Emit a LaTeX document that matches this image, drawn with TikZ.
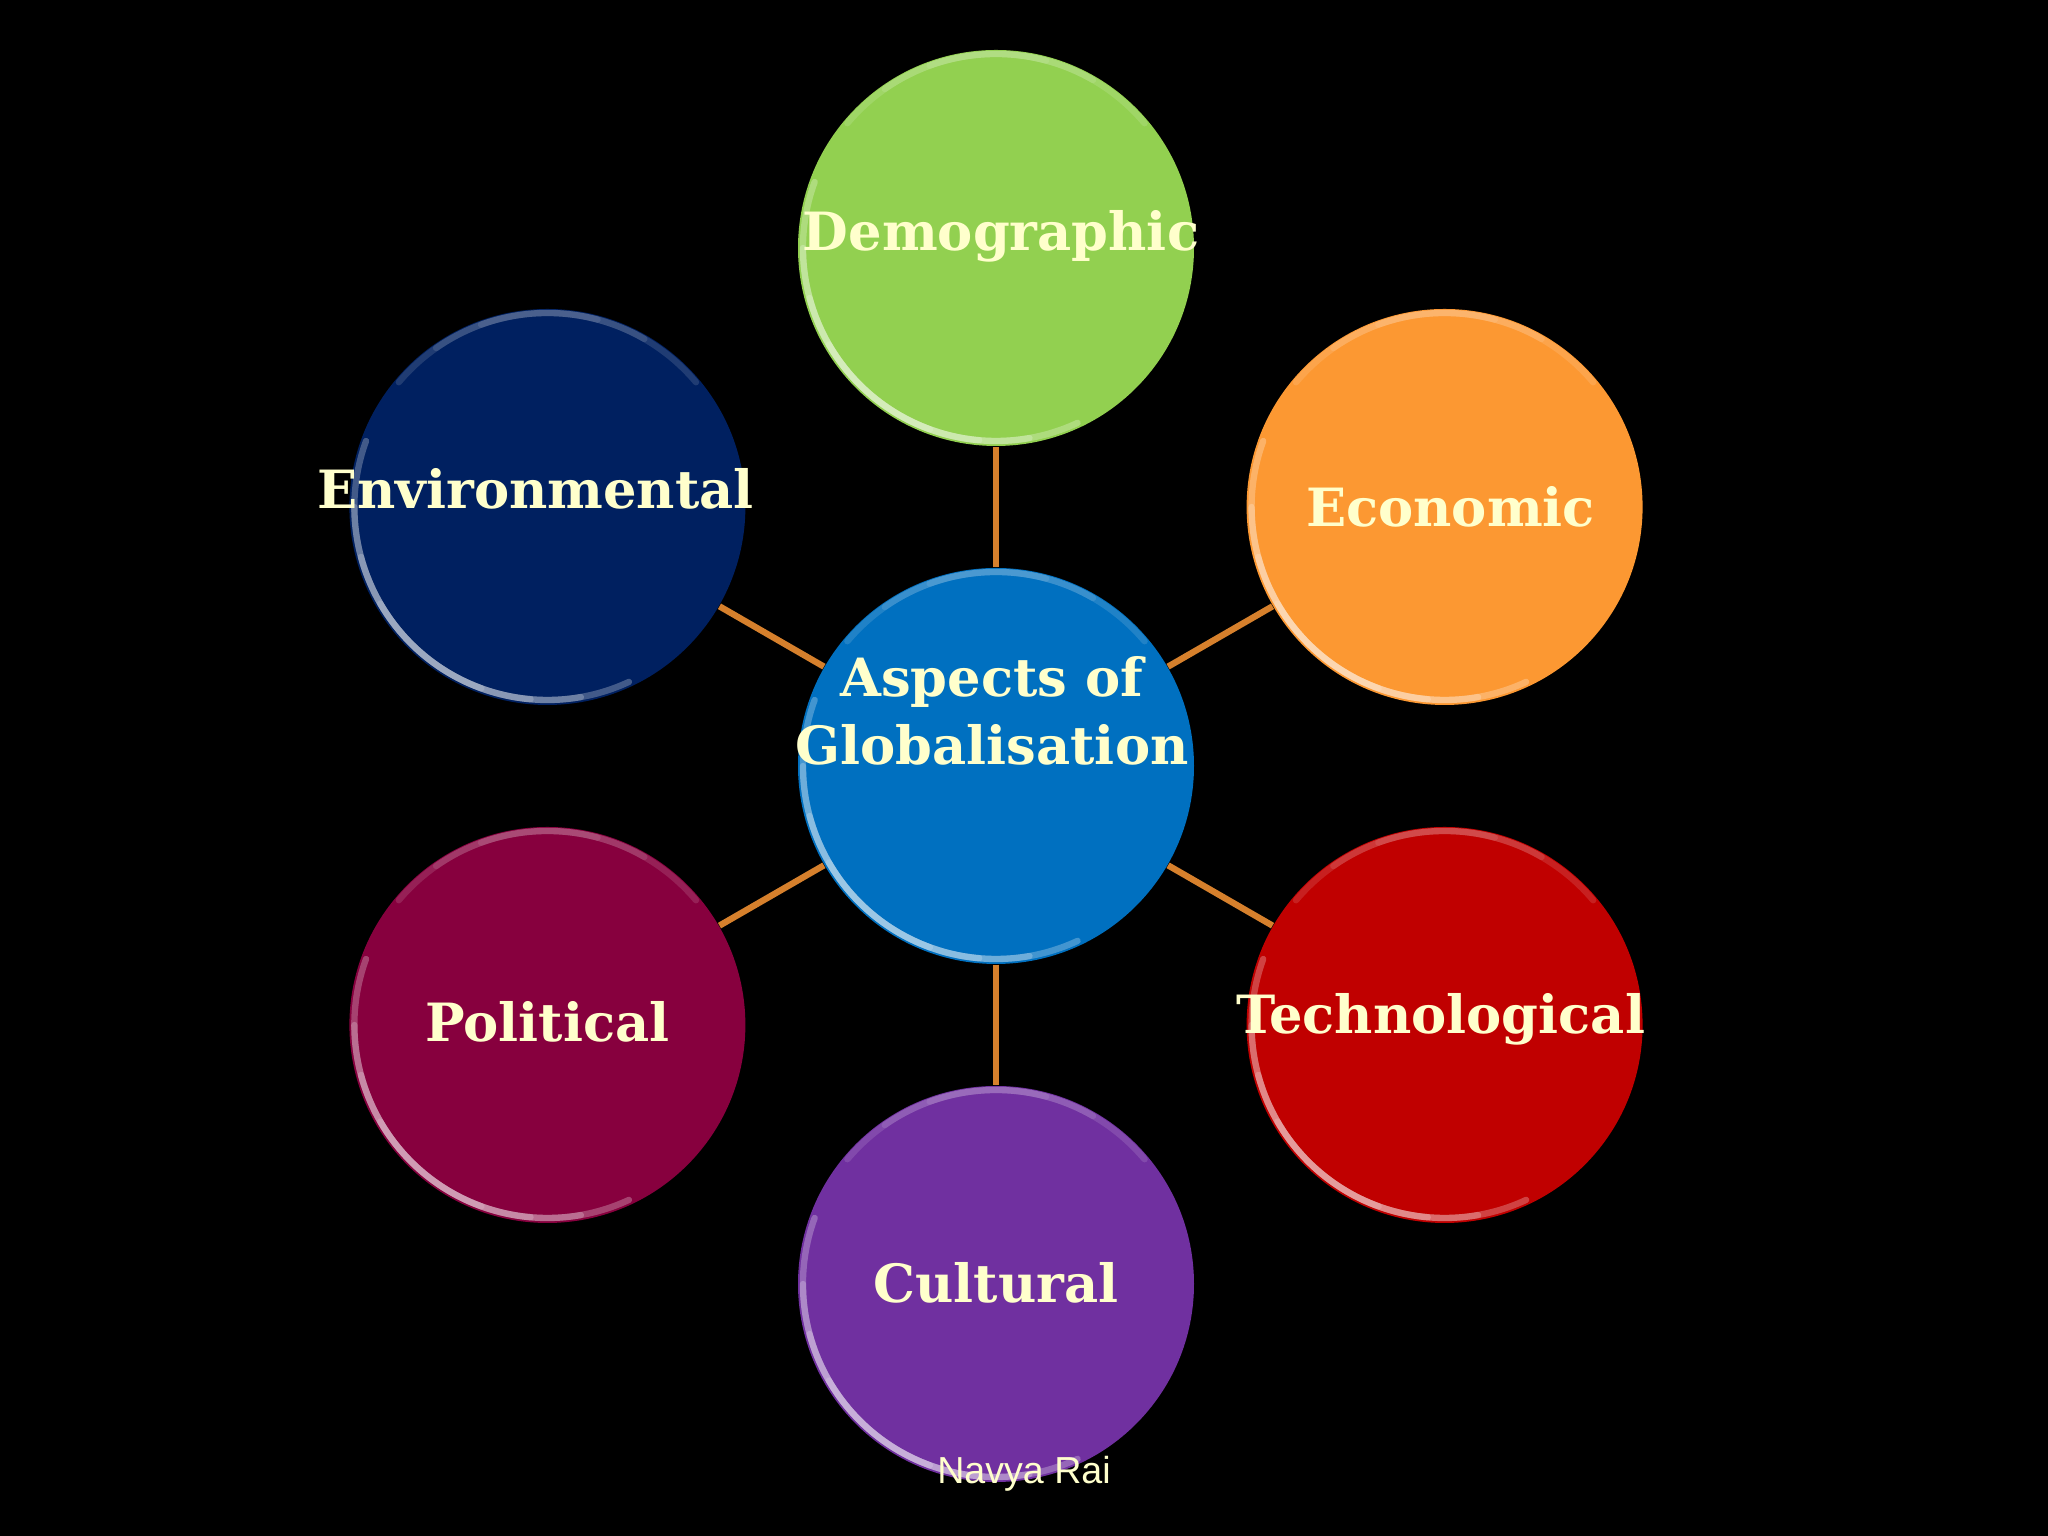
\documentclass[tikz,border=0pt]{standalone}
\usepackage{fontspec}
\setmainfont{DejaVu Serif}
\newfontfamily\namefont{Liberation Sans}

\definecolor{hubblue}{RGB}{0,112,192}
\definecolor{demogreen}{RGB}{146,208,80}
\definecolor{econorange}{RGB}{252,152,50}
\definecolor{techred}{RGB}{192,0,0}
\definecolor{cultpurple}{RGB}{112,48,160}
\definecolor{polmaroon}{RGB}{135,0,62}
\definecolor{envnavy}{RGB}{0,32,96}
\definecolor{linkorange}{RGB}{214,128,44}
\definecolor{capcream}{RGB}{255,255,204}

\tikzset{
  bubble/.style={circle, minimum size=3.96cm, inner sep=0pt},
  caption/.style={text=capcream, font=\bfseries\fontsize{15}{19.3}\selectfont, align=center},
  link/.style={linkorange, line width=1.8pt},
  rim/.style={line width=1.8pt, line cap=round, opacity=.35},
}

\begin{document}
\begin{tikzpicture}
    \fill[black] (0,0) rectangle (20.48,15.36);
    \useasboundingbox (0,0) rectangle (20.48,15.36);

    % hub and the six aspects round it
    \node[bubble, fill=hubblue] (hub) at (9.96,7.70) {};
    \node[bubble, fill=demogreen] (demo) at ([shift={(90:5.18)}]hub) {};
    \node[bubble, fill=econorange] (econ) at ([shift={(30:5.18)}]hub) {};
    \node[bubble, fill=techred] (tech) at ([shift={(-30:5.18)}]hub) {};
    \node[bubble, fill=cultpurple] (cult) at ([shift={(-90:5.18)}]hub) {};
    \node[bubble, fill=polmaroon] (pol) at ([shift={(210:5.18)}]hub) {};
    \node[bubble, fill=envnavy] (env) at ([shift={(150:5.18)}]hub) {};

    \foreach \n in {demo,econ,tech,cult,pol,env}
        \draw[link] (hub) -- (\n);

    % light rims, brighter towards the middle of each arc
    \foreach \n/\c in {hub/hubblue,demo/demogreen,econ/econorange,tech/techred,cult/cultpurple,pol/polmaroon,env/envnavy} {
        \foreach \a/\b in {160/295,180/280,195/265,210/250}
            \draw[rim, \c!25!white] ([shift={(\a:1.93)}]\n.center) arc[start angle=\a, end angle=\b, radius=1.93cm];
        \foreach \a/\b in {40/140,60/125,75/110}
            \draw[rim, \c!50!white, opacity=.25] ([shift={(\a:1.94)}]\n.center) arc[start angle=\a, end angle=\b, radius=1.94cm];
    }

    \node[caption] (hubtext) at ([shift={(-0.04,0.55)}]hub) {Aspects of\\Globalisation};
    \node[caption] (demotext) at ([shift={(0.05,0.12)}]demo) {Demographic};
    \node[caption] (econtext) at ([shift={(0.06,0)}]econ) {Economic};
    \node[caption] (techtext) at ([shift={(-0.04,0.06)}]tech) {Technological};
    \node[caption] (culttext) at ([shift={(0,0.01)}]cult) {Cultural};
    \node[caption] (poltext) at ([shift={(0,0.03)}]pol) {Political};
    \node[caption] (envtext) at ([shift={(-0.12,0.18)}]env) {Environmental};

    \node[text=capcream, font=\namefont\fontsize{10.7}{13}\selectfont] (author) at (10.24,0.62) {Navya Rai};
\end{tikzpicture}
\end{document}
